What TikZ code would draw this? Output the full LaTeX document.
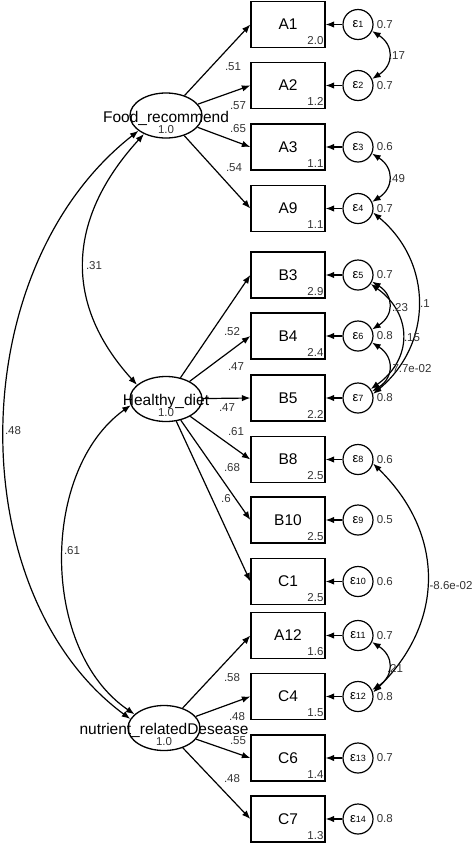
\documentclass[tikz,border=0pt]{standalone}
\usepackage{fontspec}
\setmainfont{Liberation Sans}
\usetikzlibrary{positioning,calc,arrows.meta,shapes.geometric}

\newcommand{\errlab}[1]{{\fontsize{13}{13}\selectfont ε}{\fontsize{9}{9}\selectfont #1}}

\tikzset{
  obs/.style={draw,line width=1.3pt,minimum width=74pt,minimum height=46pt,inner sep=0pt,font=\fontsize{15.5}{15.5}\selectfont},
  lat/.style={draw,ellipse,line width=1.3pt,minimum width=72pt,minimum height=45pt,inner sep=0pt},
  err/.style={draw,circle,line width=1.2pt,minimum size=30pt,inner sep=0pt},
  num/.style={font=\fontsize{11.5}{11.5}\selectfont,text=black!80,inner sep=0pt},
  latname/.style={font=\fontsize{15.5}{15.5}\selectfont,inner sep=0pt,anchor=base},
  load/.style={line width=1.2pt,-{Latex[length=8.5pt,width=6.5pt]}},
  cov/.style={line width=1.2pt,{Latex[length=8.5pt,width=6.5pt]}-{Latex[length=8.5pt,width=6.5pt]}},
}

\begin{document}
\begin{tikzpicture}[x=1pt,y=-1pt]
		\useasboundingbox (0,0) rectangle (474,844);
		
		\node[obs] (A1) at (288,24.5) {A1};
		\node[obs] (A2) at (288,85.5) {A2};
		\node[obs] (A3) at (288,147) {A3};
		\node[obs] (A9) at (288,208.5) {A9};
		\node[obs] (B3) at (288,275) {B3};
		\node[obs] (B4) at (288,336) {B4};
		\node[obs] (B5) at (288,398) {B5};
		\node[obs] (B8) at (288,459.5) {B8};
		\node[obs] (B10) at (288,520) {B10};
		\node[obs] (C1) at (288,581.5) {C1};
		\node[obs] (A12) at (288,635.5) {A12};
		\node[obs] (C4) at (288,696.5) {C4};
		\node[obs] (C6) at (288,758) {C6};
		\node[obs] (C7) at (288,819) {C7};
		
		\node[num,anchor=base east] (iA1) at ([xshift=-2pt,yshift=3.5pt]A1.south east) {2.0};
		\node[num,anchor=base east] (iA2) at ([xshift=-2pt,yshift=3.5pt]A2.south east) {1.2};
		\node[num,anchor=base east] (iA3) at ([xshift=-2pt,yshift=3.5pt]A3.south east) {1.1};
		\node[num,anchor=base east] (iA9) at ([xshift=-2pt,yshift=3.5pt]A9.south east) {1.1};
		\node[num,anchor=base east] (iB3) at ([xshift=-2pt,yshift=3.5pt]B3.south east) {2.9};
		\node[num,anchor=base east] (iB4) at ([xshift=-2pt,yshift=3.5pt]B4.south east) {2.4};
		\node[num,anchor=base east] (iB5) at ([xshift=-2pt,yshift=3.5pt]B5.south east) {2.2};
		\node[num,anchor=base east] (iB8) at ([xshift=-2pt,yshift=3.5pt]B8.south east) {2.5};
		\node[num,anchor=base east] (iB10) at ([xshift=-2pt,yshift=3.5pt]B10.south east) {2.5};
		\node[num,anchor=base east] (iC1) at ([xshift=-2pt,yshift=3.5pt]C1.south east) {2.5};
		\node[num,anchor=base east] (iA12) at ([xshift=-2pt,yshift=3.5pt]A12.south east) {1.6};
		\node[num,anchor=base east] (iC4) at ([xshift=-2pt,yshift=3.5pt]C4.south east) {1.5};
		\node[num,anchor=base east] (iC6) at ([xshift=-2pt,yshift=3.5pt]C6.south east) {1.4};
		\node[num,anchor=base east] (iC7) at ([xshift=-2pt,yshift=3.5pt]C7.south east) {1.3};
		
		\node[err] (e1) at (358,24.5) {\errlab{1}};
		\node[err] (e2) at (358,85.5) {\errlab{2}};
		\node[err] (e3) at (358,147) {\errlab{3}};
		\node[err] (e4) at (358,208.5) {\errlab{4}};
		\node[err] (e5) at (358,275) {\errlab{5}};
		\node[err] (e6) at (358,336) {\errlab{6}};
		\node[err] (e7) at (358,398) {\errlab{7}};
		\node[err] (e8) at (358,459.5) {\errlab{8}};
		\node[err] (e9) at (358,520) {\errlab{9}};
		\node[err] (e10) at (358,581.5) {\errlab{10}};
		\node[err] (e11) at (358,635.5) {\errlab{11}};
		\node[err] (e12) at (358,696.5) {\errlab{12}};
		\node[err] (e13) at (358,758) {\errlab{13}};
		\node[err] (e14) at (358,819) {\errlab{14}};
		
		\node[num,anchor=west] (v1) at ([xshift=3pt]e1.east) {0.7};
		\node[num,anchor=west] (v2) at ([xshift=3pt]e2.east) {0.7};
		\node[num,anchor=west] (v3) at ([xshift=3pt]e3.east) {0.6};
		\node[num,anchor=west] (v4) at ([xshift=3pt]e4.east) {0.7};
		\node[num,anchor=west] (v5) at ([xshift=3pt]e5.east) {0.7};
		\node[num,anchor=west] (v6) at ([xshift=3pt]e6.east) {0.8};
		\node[num,anchor=west] (v7) at ([xshift=3pt]e7.east) {0.8};
		\node[num,anchor=west] (v8) at ([xshift=3pt]e8.east) {0.6};
		\node[num,anchor=west] (v9) at ([xshift=3pt]e9.east) {0.5};
		\node[num,anchor=west] (v10) at ([xshift=3pt]e10.east) {0.6};
		\node[num,anchor=west] (v11) at ([xshift=3pt]e11.east) {0.7};
		\node[num,anchor=west] (v12) at ([xshift=3pt]e12.east) {0.8};
		\node[num,anchor=west] (v13) at ([xshift=3pt]e13.east) {0.7};
		\node[num,anchor=west] (v14) at ([xshift=3pt]e14.east) {0.8};
		
		\draw[load] (e1) -- (A1);
		\draw[load] (e2) -- (A2);
		\draw[load] (e3) -- (A3);
		\draw[load] (e4) -- (A9);
		\draw[load] (e5) -- (B3);
		\draw[load] (e6) -- (B4);
		\draw[load] (e7) -- (B5);
		\draw[load] (e8) -- (B8);
		\draw[load] (e9) -- (B10);
		\draw[load] (e10) -- (C1);
		\draw[load] (e11) -- (A12);
		\draw[load] (e12) -- (C4);
		\draw[load] (e13) -- (C6);
		\draw[load] (e14) -- (C7);
		
		\node[lat] (food) at (166,115.5) {};
		\node[latname] (foodname) at ([yshift=-7pt]food.center) {Food\_recommend};
		\node[num,anchor=base] (foodvar) at ([yshift=-17.5pt]food.center) {1.0};
		\node[lat] (healthy) at (166,399) {};
		\node[latname] (healthyname) at ([yshift=-6pt]healthy.center) {Healthy\_diet};
		\node[num,anchor=base] (healthyvar) at ([yshift=-17pt]healthy.center) {1.0};
		\node[lat] (nutrient) at (164,728) {};
		\node[latname] (nutrientname) at ([yshift=-6pt]nutrient.center) {nutrient\_relatedDesease};
		\node[num,anchor=base] (nutrientvar) at ([yshift=-17pt]nutrient.center) {1.0};
		
		\draw[load] (food) -- (A1.west);
		\draw[load] (food) -- (A2.west);
		\draw[load] (food) -- (A3.west);
		\draw[load] (food) -- (A9.west);
		\draw[load] (healthy) -- (B3.west);
		\draw[load] (healthy) -- (B4.west);
		\draw[load] (healthy) -- (B5.west);
		\draw[load] (healthy) -- (B8.west);
		\draw[load] (healthy) -- (B10.west);
		\draw[load] (healthy) -- (C1.west);
		\draw[load] (nutrient) -- (A12.west);
		\draw[load] (nutrient) -- (C4.west);
		\draw[load] (nutrient) -- (C6.west);
		\draw[load] (nutrient) -- (C7.west);
		
		\node[num] (lA1) at (233,67) {.51};
		\node[num] (lA2) at (238,106) {.57};
		\node[num] (lA3) at (238,129) {.65};
		\node[num] (lA9) at (234,168) {.54};
		\node[num] (lB3) at (232,332) {.52};
		\node[num] (lB4) at (236,367) {.47};
		\node[num] (lB5) at (227,408) {.47};
		\node[num] (lB8) at (236,432) {.61};
		\node[num] (lB10) at (232,468) {.68};
		\node[num] (lC1) at (226,499) {.6};
		\node[num] (lA12) at (232,678) {.58};
		\node[num] (lC4) at (237,717) {.48};
		\node[num] (lC6) at (238,741) {.55};
		\node[num] (lC7) at (232,779) {.48};
		
		\draw[cov] (food.220) .. controls (70,215) and (60,300) .. (healthy.154);
		\draw[cov] (food.209) .. controls (-39,270) and (-39,594) .. (nutrient.165);
		\draw[cov] (healthy.190) .. controls (40,470) and (40,650) .. (nutrient.155);
		\node[num] (cfh) at (94,266) {.31};
		\node[num] (cfn) at (13,431) {.48};
		\node[num] (chn) at (72,551) {.61};
		
		\draw[cov] (e1.-25) .. controls +(22,14) and +(22,-14) .. (e2.25);
		\draw[cov] (e3.-25) .. controls +(22,14) and +(22,-14) .. (e4.25);
		\draw[cov] (e4.-15) .. controls +(60,50) and +(60,-50) .. (e7.15);
		\draw[cov] (e5.-25) .. controls +(22,14) and +(22,-14) .. (e6.25);
		\draw[cov] (e5.-35) .. controls +(42,30) and +(42,-30) .. (e7.35);
		\draw[cov] (e6.-25) .. controls +(22,14) and +(22,-14) .. (e7.25);
		\draw[cov] (e8.-15) .. controls +(72,70) and +(72,-70) .. (e12.15);
		\draw[cov] (e11.-25) .. controls +(22,14) and +(22,-14) .. (e12.25);
		\node[num] (c12) at (397,56) {.17};
		\node[num] (c34) at (397,179) {.49};
		\node[num] (c47) at (425,304) {.1};
		\node[num] (c56) at (400,308) {.23};
		\node[num] (c57) at (412,338) {.15};
		\node[num] (c67) at (412,369) {7.7e-02};
		\node[num] (c812) at (451,586) {-8.6e-02};
		\node[num] (c1112) at (395,668) {.21};
	\end{tikzpicture}
\end{document}
